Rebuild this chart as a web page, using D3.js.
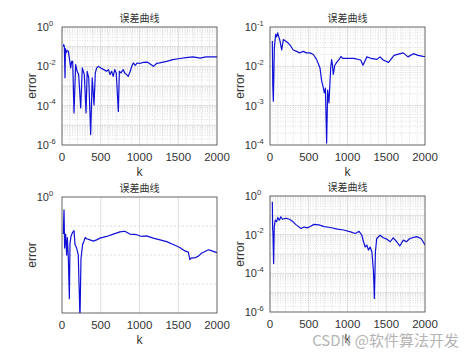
<!DOCTYPE html>
<html><head><meta charset="utf-8">
<script src="https://cdn.jsdelivr.net/npm/d3@7"></script>
<style>
html,body{margin:0;padding:0;background:#fff;}
svg{display:block;}
</style></head>
<body>
<svg id="c" width="474" height="355"></svg>
<script>
const titleText = "误差曲线";
const xLabel = "k";
const yLabel = "error";
const xTicks = [0, 500, 1000, 1500, 2000];
const watermark = "CSDN @软件算法开发";

// Panel 1 (top-left)
const k1 = [17,22,30,39,45,51,65,82,95,112,125,138,155,176,195,215,241,262,288,310,325,345,370,390,413,430,447,470,500,540,576,600,620,640,661,680,700,727,740,760,790,810,834,855,880,900,920,945,970,1000,1050,1100,1180,1220,1260,1350,1430,1520,1600,1690,1780,1860,2000];
const e1 = [0.1,0.126,0.105,0.0026,0.079,0.048,0.063,0.058,0.026,0.0083,0.0178,0.0178,0.000043,0.0123,0.0056,0.0038,0.000076,0.0083,0.0038,0.000043,0.0056,0.0026,0.0000034,0.0026,0.00011,0.0046,0.0083,0.01,0.0083,0.0068,0.0056,0.0068,0.0038,0.0056,0.0031,0.0068,0.0046,0.000051,0.0056,0.0046,0.0068,0.0046,0.0038,0.0031,0.0056,0.01,0.0148,0.0112,0.0148,0.014,0.016,0.0165,0.01,0.014,0.015,0.018,0.022,0.025,0.0275,0.03,0.026,0.03,0.03];

// Panel 2 (top-right)
const k2 = [30,36,43,50,56,73,85,99,112,129,151,172,200,230,271,300,344,380,430,470,516,560,602,645,667,684,701,715,731,744,761,783,795,805,817,835,860,890,916,940,1000,1080,1170,1200,1250,1300,1380,1420,1460,1530,1600,1680,1720,1780,1850,1910,1975,2000];
const e2 = [0.044,0.0032,0.0013,0.0063,0.0295,0.065,0.056,0.071,0.058,0.044,0.026,0.048,0.044,0.04,0.032,0.026,0.024,0.022,0.024,0.022,0.022,0.02,0.0148,0.0091,0.0042,0.0031,0.0021,0.0028,0.000112,0.0025,0.00117,0.0091,0.0148,0.0112,0.0062,0.0105,0.0126,0.0148,0.0178,0.016,0.016,0.016,0.0145,0.0107,0.0174,0.016,0.015,0.0174,0.0145,0.0126,0.019,0.021,0.022,0.0174,0.021,0.019,0.018,0.0178];

// Panel 3 (bottom-left)
const k3 = [17,26,34,47,60,69,82,95,103,116,133,155,168,189,210,232,245,266,284,300,318,361,404,447,490,576,662,748,810,875,963,1030,1090,1178,1265,1350,1435,1520,1585,1630,1650,1670,1715,1760,1800,1845,1890,1935,1978,2000];
const e3 = [0.479,0.776,0.363,0.479,0.316,0.447,0.295,0.133,0.398,0.457,0.49,0.513,0.389,0.363,0.316,0.089,0.295,0.389,0.417,0.447,0.437,0.427,0.417,0.427,0.442,0.457,0.479,0.5,0.507,0.479,0.473,0.457,0.462,0.442,0.427,0.412,0.389,0.367,0.343,0.335,0.288,0.299,0.299,0.309,0.327,0.339,0.351,0.343,0.335,0.331];
const grid3 = [0.562, 0.316, 0.178];

// Panel 4 (bottom-right)
const k4 = [30,34,38,47,55,68,85,100,120,140,160,205,250,290,330,400,440,480,525,567,630,700,780,870,950,1040,1100,1150,1185,1207,1228,1250,1270,1292,1315,1335,1347,1360,1377,1420,1463,1505,1550,1590,1635,1675,1720,1760,1805,1890,1950,1975,2000];
const e4 = [0.51,0.021,0.0126,0.00032,0.026,0.056,0.047,0.076,0.056,0.085,0.063,0.071,0.063,0.05,0.034,0.021,0.025,0.0224,0.0275,0.034,0.032,0.026,0.0234,0.0195,0.0174,0.014,0.0115,0.015,0.0093,0.0043,0.0023,0.0029,0.0016,0.0023,0.00126,0.00012,0.000005,0.00126,0.0063,0.0093,0.0069,0.0059,0.0043,0.0069,0.0043,0.0026,0.0052,0.0043,0.0063,0.0079,0.0063,0.0043,0.0029];

const panels = [
  {k:k1, e:e1, x0:62, x1:217, y0:27, y1:145, dom:[1e-6,1], yt:[-6,-4,-2,0], full:true, lab:32},
  {k:k2, e:e2, x0:270, x1:425, y0:27, y1:145, dom:[1e-4,1e-1], yt:[-4,-3,-2,-1], full:true, lab:240},
  {k:k3, e:e3, x0:62, x1:217, y0:197, y1:313, dom:[1e-1,1], yt:[0], full:false, lab:32},
  {k:k4, e:e4, x0:270, x1:425, y0:196, y1:312, dom:[1e-6,1], yt:[-6,-4,-2,0], full:true, lab:240}
];

const svg = d3.select("#c");
const fontTick = "'Liberation Sans', Arial, sans-serif";
const lineColor = "#1010d8";

panels.forEach((p, i) => {
  const g = svg.append("g");
  const x = d3.scaleLinear().domain([0, 2000]).range([p.x0, p.x1]);
  const y = d3.scaleLog().domain(p.dom).range([p.y1, p.y0]);
  const clipId = "clip" + i;
  svg.append("clipPath").attr("id", clipId).append("rect")
    .attr("x", p.x0).attr("y", p.y0).attr("width", p.x1 - p.x0).attr("height", p.y1 - p.y0);

  g.append("rect").attr("x", p.x0).attr("y", p.y0).attr("width", p.x1 - p.x0).attr("height", p.y1 - p.y0).attr("fill", "#fff");

  if (p.full) {
    d3.range(100, 2000, 100).filter(v => v % 500 !== 0).forEach(v => {
      g.append("line").attr("x1", x(v)).attr("x2", x(v)).attr("y1", p.y0).attr("y2", p.y1)
        .attr("stroke", "#c8c8c8").attr("stroke-width", 0.6).attr("stroke-dasharray", "1,1.5");
    });
    const lo = Math.round(Math.log10(p.dom[0])), hi = Math.round(Math.log10(p.dom[1]));
    for (let d = lo; d < hi; d++) {
      for (let m = 2; m <= 9; m++) {
        const v = m * Math.pow(10, d);
        g.append("line").attr("x1", p.x0).attr("x2", p.x1).attr("y1", y(v)).attr("y2", y(v))
          .attr("stroke", "#c8c8c8").attr("stroke-width", 0.6).attr("stroke-dasharray", "1,1.5");
      }
    }
    for (let d = lo + 1; d < hi; d++) {
      const v = Math.pow(10, d);
      g.append("line").attr("x1", p.x0).attr("x2", p.x1).attr("y1", y(v)).attr("y2", y(v))
        .attr("stroke", "#d6d6d6").attr("stroke-width", 0.8);
    }
  } else {
    grid3.forEach(v => {
      g.append("line").attr("x1", p.x0).attr("x2", p.x1).attr("y1", y(v)).attr("y2", y(v))
        .attr("stroke", "#cfcfcf").attr("stroke-width", 0.7).attr("stroke-dasharray", "2,2");
    });
  }
  [500, 1000, 1500].forEach(v => {
    g.append("line").attr("x1", x(v)).attr("x2", x(v)).attr("y1", p.y0).attr("y2", p.y1)
      .attr("stroke", "#d6d6d6").attr("stroke-width", 0.8);
  });

  const data = p.k.map((kk, j) => [kk, p.e[j]]);
  g.append("path").datum(data)
    .attr("clip-path", `url(#${clipId})`)
    .attr("fill", "none").attr("stroke", lineColor).attr("stroke-width", 1.2)
    .attr("stroke-linejoin", "round")
    .attr("d", d3.line().x(d => x(d[0])).y(d => y(Math.max(d[1], p.dom[0] * 0.5))));

  g.append("rect").attr("x", p.x0).attr("y", p.y0).attr("width", p.x1 - p.x0).attr("height", p.y1 - p.y0)
    .attr("fill", "none").attr("stroke", "#404040").attr("stroke-width", 0.8);

  xTicks.forEach(v => {
    g.append("text").attr("x", x(v)).attr("y", p.y1 + 16)
      .attr("text-anchor", "middle").attr("font-family", fontTick).attr("font-size", 11.5)
      .attr("fill", "#333").text(v);
  });
  p.yt.forEach(ex => {
    g.append("text").attr("x", p.x0 - 13).attr("y", y(Math.pow(10, ex)) + 4)
      .attr("text-anchor", "end").attr("font-family", fontTick).attr("font-size", 11)
      .attr("fill", "#333").text("10");
    g.append("text").attr("x", p.x0 - 13).attr("y", y(Math.pow(10, ex)) - 1.5)
      .attr("text-anchor", "start").attr("font-family", fontTick).attr("font-size", 7.5).attr("fill", "#333")
      .text(ex);
  });
  g.append("text").attr("x", (p.x0 + p.x1) / 2).attr("y", p.y0 - 5)
    .attr("text-anchor", "middle").attr("font-family", "'Noto Sans CJK SC', sans-serif")
    .attr("font-size", 10).attr("fill", "#333").text(titleText);
  g.append("text").attr("x", (p.x0 + p.x1) / 2).attr("y", p.y1 + 31)
    .attr("text-anchor", "middle").attr("font-family", fontTick).attr("font-size", 12)
    .attr("fill", "#333").text(xLabel);
  g.append("text").attr("transform", `translate(${p.lab},${(p.y0 + p.y1) / 2}) rotate(-90)`)
    .attr("text-anchor", "middle").attr("dy", "0.35em").attr("font-family", fontTick).attr("font-size", 12)
    .attr("fill", "#333").text(yLabel);
});

svg.append("text").attr("x", 459).attr("y", 346).attr("text-anchor", "end")
  .attr("font-family", "'Noto Sans CJK SC', sans-serif").attr("font-size", 15)
  .attr("fill", "#b4b4b4").text(watermark);
</script>
</body></html>
